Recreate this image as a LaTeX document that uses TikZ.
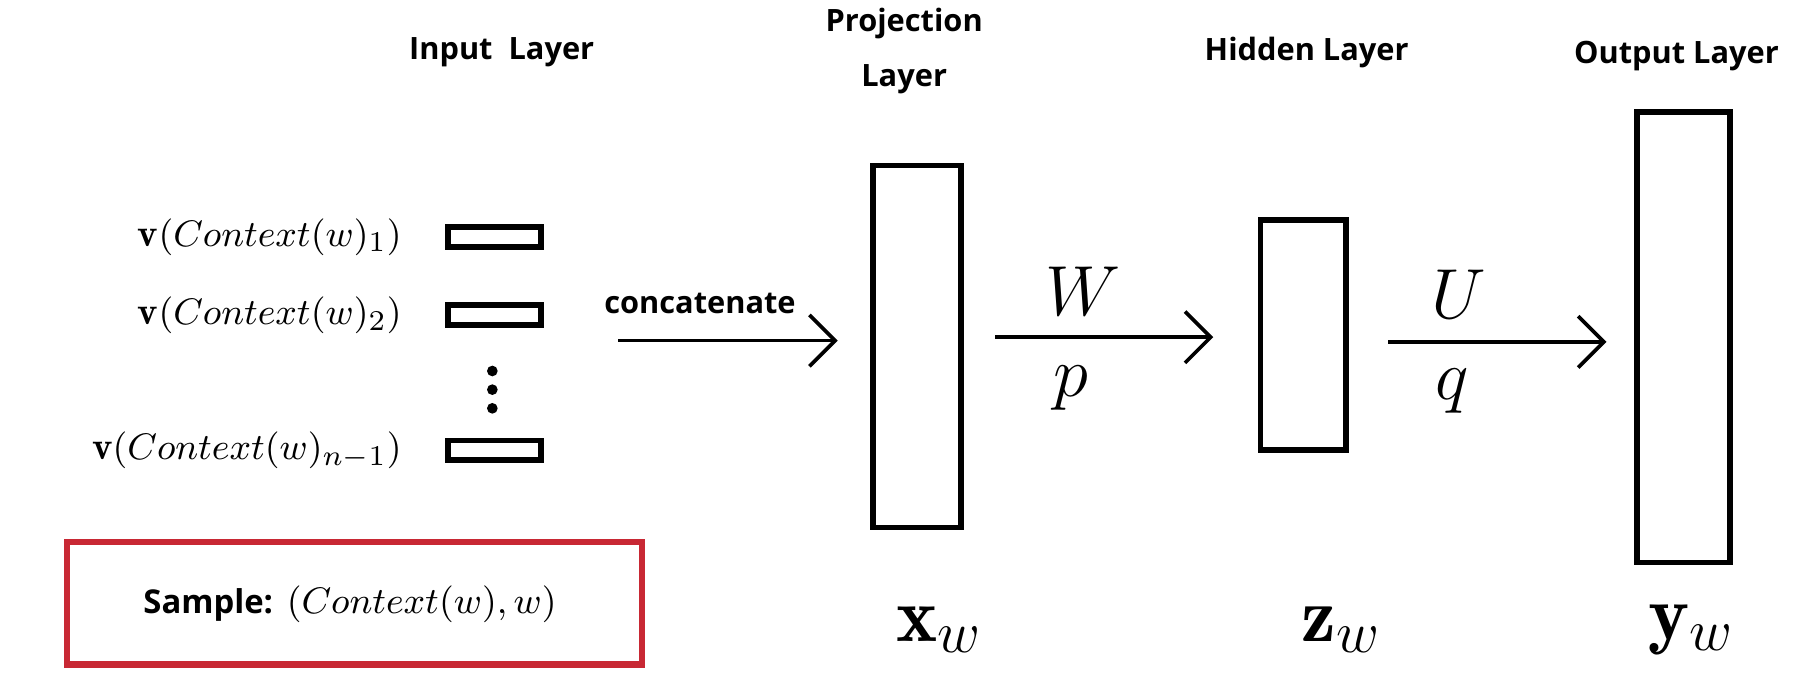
\documentclass[tikz,border=0pt]{standalone}
\usepackage{amsmath,amssymb}
\usepackage{fontspec}
\newfontfamily\lblfont{Open Sans}
\usetikzlibrary{arrows.meta,positioning}
\tikzset{
  layer/.style={draw=black, line width=1.4pt, inner sep=0pt},
  vec/.style={layer, minimum width=0.8cm, minimum height=0.17cm},
  ttl/.style={font=\lblfont\bfseries\fontsize{7.5}{9}\selectfont, inner sep=0pt},
  ctx/.style={font=\fontsize{9.5}{11}\selectfont, inner sep=0pt, anchor=east},
  flow/.style={line width=0.9pt, -{Straight Barb[length=2.2mm,width=4.4mm,line width=0.9pt]}},
  big/.style={font=\fontsize{16}{18}\selectfont, inner sep=0pt}
}
\begin{document}
\begin{tikzpicture}[x=0.01cm,y=-0.01cm]
        \useasboundingbox (0,0) rectangle (1560,592);
        % titles
        \node [ttl] (tin) at (430,45) {Input\ \ Layer};
        \node [ttl] (tproj) at (775,20) {Projection};
        \node [ttl] (tproj2) at (775,68) {Layer};
        \node [ttl] (thid) at (1120,45) {Hidden Layer};
        \node [ttl] (tout) at (1437,48) {Output Layer};

        % input vectors
        \node [vec] (v1) at (424,203) {};
        \node [vec] (v2) at (424,270) {};
        \node [vec] (vn) at (424,386) {};
        \node [ctx] (l1) at (345,203) {$\mathbf{v}(Context(w)_1)$};
        \node [ctx] (l2) at (345,270) {$\mathbf{v}(Context(w)_2)$};
        \node [ctx] (ln) at (345,386) {$\mathbf{v}(Context(w)_{n-1})$};
        \foreach \y in {318,334,350}
            \fill (422,\y) circle (1.3pt);

        % layers
        \node [layer, minimum width=0.75cm, minimum height=3.1cm] (proj) at (786,297) {};
        \node [layer, minimum width=0.73cm, minimum height=1.97cm] (hid) at (1117,287) {};
        \node [layer, minimum width=0.80cm, minimum height=3.86cm] (out) at (1443,289) {};

        % arrows
        \coordinate (a1) at (530,292);
        \coordinate (b1) at (718,292);
        \coordinate (a2) at (853,289);
        \coordinate (b2) at (1040,289);
        \coordinate (a3) at (1190,293);
        \coordinate (b3) at (1377,293);
        \draw [flow] (a1) -- (b1);
        \draw [flow] (a2) -- (b2);
        \draw [flow] (a3) -- (b3);
        \node [ttl] (cat) at (600,260) {concatenate};
        \node [big] (W) at (928,250) {$W$};
        \node [big] (p) at (918,333) {$p$};
        \node [big] (U) at (1250,252) {$U$};
        \node [big] (q) at (1245,335) {$q$};

        % layer vectors
        \node [big, font=\fontsize{19}{21}\selectfont] (xw) at (805,540) {$\mathbf{x}_w$};
        \node [big, font=\fontsize{19}{21}\selectfont] (zw) at (1150,540) {$\mathbf{z}_w$};
        \node [big, font=\fontsize{19}{21}\selectfont] (yw) at (1450,540) {$\mathbf{y}_w$};

        % sample box
        \definecolor{sampred}{RGB}{200,40,52}
        \node [draw=sampred, line width=1.5pt, minimum width=4.93cm, minimum height=1.05cm, inner sep=0pt] (samp) at (304,517) {};
        \node [inner sep=0pt] (stext) at (300,518) {{\lblfont\bfseries\fontsize{8}{9}\selectfont Sample:}\ {\fontsize{9.5}{11}\selectfont$(Context(w),w)$}};
\end{tikzpicture}
\end{document}
